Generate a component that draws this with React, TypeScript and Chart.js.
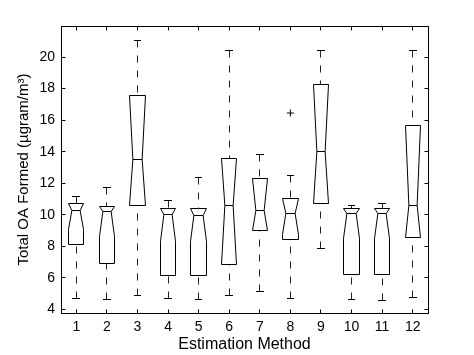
import React, { useEffect, useRef } from 'react';
import { Chart, registerables } from 'chart.js';

Chart.register(...registerables);

// ---- data ----
const methods = ['1', '2', '3', '4', '5', '6', '7', '8', '9', '10', '11', '12'];
const whiskerLow = [4.68, 4.64, 4.87, 4.66, 4.65, 4.87, 5.13, 4.68, 7.89, 4.61, 4.58, 4.76];
const q1 = [8.10, 6.92, 10.58, 6.16, 6.14, 6.87, 9.0, 8.46, 10.70, 6.22, 6.19, 8.56];
const median = [10.28, 10.2, 13.5, 10.03, 9.98, 10.58, 10.27, 10.11, 14.03, 10.05, 10.05, 10.57];
const q3 = [10.70, 10.55, 17.55, 10.42, 10.37, 13.58, 12.32, 11.05, 18.27, 10.38, 10.38, 15.66];
const whiskerHigh = [11.18, 11.75, 21.08, 10.9, 12.38, 20.39, 13.81, 12.48, 20.39, 10.59, 10.74, 20.39];
const notchLow = [9.05, 8.65, 10.58, 8.3, 8.3, 6.87, 9.0, 8.73, 10.70, 8.5, 8.5, 8.56];
const notchHigh = [10.70, 10.55, 17.55, 10.42, 10.37, 13.58, 12.32, 11.05, 18.27, 10.38, 10.38, 15.66];
const outliers: (number | null)[] = [null, null, null, null, null, null, null, 16.45, null, null, null, null];
const yTicks = [4, 6, 8, 10, 12, 14, 16, 18, 20];
const yMin = 3.77;
const yMax = 21.97;

const FONT = '"Liberation Sans", Arial, Helvetica, sans-serif';
const BOX_W = 0.5;
const CAP_W = 0.25;
const NOTCH_INSET = 0.22;

const snap = (p: number) => Math.floor(p) + 0.5;

const boxPlugin = {
  id: 'notchedBoxes',
  beforeDatasetsDraw(chart: any) {
    const ctx = chart.ctx;
    const xs = chart.scales.x;
    const ys = chart.scales.y;
    const py = (v: number) => snap(ys.getPixelForValue(v));
    ctx.save();
    ctx.strokeStyle = '#000';
    ctx.lineWidth = 1;
    for (let i = 0; i < methods.length; i++) {
      const cxRaw = xs.getPixelForValue(i);
      const cx = snap(cxRaw);
      const hw = xs.getPixelForValue(i + BOX_W / 2) - cxRaw;
      const capHw = xs.getPixelForValue(i + CAP_W / 2) - cxRaw;
      const inset = hw * 2 * NOTCH_INSET;
      const l = snap(cxRaw - hw);
      const r = snap(cxRaw + hw);

      // whiskers (dashed), drawn from the cap toward the box
      ctx.strokeStyle = '#222';
      ctx.setLineDash([7, 8]);
      ctx.beginPath();
      ctx.moveTo(cx, py(whiskerHigh[i]));
      ctx.lineTo(cx, py(q3[i]));
      ctx.stroke();
      ctx.beginPath();
      ctx.moveTo(cx, py(whiskerLow[i]));
      ctx.lineTo(cx, py(q1[i]));
      ctx.stroke();
      ctx.setLineDash([]);
      ctx.strokeStyle = '#000';

      // caps
      ctx.beginPath();
      ctx.moveTo(Math.round(cxRaw - capHw), py(whiskerHigh[i]));
      ctx.lineTo(Math.round(cxRaw + capHw), py(whiskerHigh[i]));
      ctx.moveTo(Math.round(cxRaw - capHw), py(whiskerLow[i]));
      ctx.lineTo(Math.round(cxRaw + capHw), py(whiskerLow[i]));
      ctx.stroke();

      // notched box
      const nLo = Math.max(notchLow[i], q1[i]);
      const nHi = Math.min(notchHigh[i], q3[i]);
      ctx.beginPath();
      ctx.moveTo(l, py(q1[i]));
      ctx.lineTo(l, py(nLo));
      ctx.lineTo(l + inset, py(median[i]));
      ctx.lineTo(l, py(nHi));
      ctx.lineTo(l, py(q3[i]));
      ctx.lineTo(r, py(q3[i]));
      ctx.lineTo(r, py(nHi));
      ctx.lineTo(r - inset, py(median[i]));
      ctx.lineTo(r, py(nLo));
      ctx.lineTo(r, py(q1[i]));
      ctx.closePath();
      ctx.stroke();

      // median
      ctx.beginPath();
      ctx.moveTo(l + inset, py(median[i]));
      ctx.lineTo(r - inset, py(median[i]));
      ctx.stroke();
    }
    ctx.restore();
  },
  afterDraw(chart: any) {
    const ctx = chart.ctx;
    const xs = chart.scales.x;
    const ys = chart.scales.y;
    const { left, right, top, bottom } = chart.chartArea;
    const L = snap(left), R = snap(right), T = snap(top), B = snap(bottom);
    const TL = 4;
    ctx.save();
    ctx.strokeStyle = '#000';
    ctx.lineWidth = 1;
    ctx.strokeRect(L, T, R - L, B - T);
    ctx.beginPath();
    for (const t of yTicks) {
      const yy = snap(ys.getPixelForValue(t));
      ctx.moveTo(L, yy);
      ctx.lineTo(L + TL, yy);
      ctx.moveTo(R, yy);
      ctx.lineTo(R - TL, yy);
    }
    for (let i = 0; i < methods.length; i++) {
      const xx = snap(xs.getPixelForValue(i));
      ctx.moveTo(xx, B);
      ctx.lineTo(xx, B - TL);
      ctx.moveTo(xx, T);
      ctx.lineTo(xx, T + TL);
    }
    ctx.stroke();
    ctx.restore();
  },
};

export default function App() {
  const ref = useRef<HTMLCanvasElement | null>(null);

  useEffect(() => {
    if (!ref.current) return;
    const chart = new Chart(ref.current, {
      type: 'line',
      data: {
        labels: methods,
        datasets: [
          {
            label: 'Outliers',
            data: outliers,
            showLine: false,
            pointStyle: 'cross',
            pointRadius: 3.5,
            pointBorderWidth: 1,
            borderColor: '#000',
            backgroundColor: '#000',
          },
        ],
      },
      options: {
        animation: false,
        responsive: false,
        devicePixelRatio: 1,
        layout: { padding: { left: 0, top: 26, right: 46, bottom: 0 } },
        plugins: {
          legend: { display: false },
          tooltip: { enabled: false },
        },
        scales: {
          x: {
            type: 'category',
            offset: true,
            grid: { display: false, drawTicks: false },
            border: { display: false },
            ticks: { color: '#000', font: { family: FONT, size: 14 }, padding: 6, maxRotation: 0 },
            title: {
              display: true,
              text: 'Estimation Method',
              color: '#000',
              font: { family: FONT, size: 16 },
              padding: { top: 0, bottom: 1 },
            },
            afterFit: (s: any) => {
              s.height = 42;
            },
          },
          y: {
            type: 'linear',
            min: yMin,
            max: yMax,
            grid: { display: false, drawTicks: false },
            border: { display: false },
            afterBuildTicks: (s: any) => {
              s.ticks = yTicks.map((v) => ({ value: v }));
            },
            ticks: { color: '#000', font: { family: FONT, size: 14 }, padding: 6 },
            title: {
              display: true,
              text: 'Total OA Formed (µgram/m³)',
              color: '#000',
              font: { family: FONT, size: 15 },
              padding: { top: 15, bottom: 0 },
            },
            afterFit: (s: any) => {
              s.width = 61;
            },
          },
        },
      },
      plugins: [boxPlugin],
    });
    return () => chart.destroy();
  }, []);

  return (
    <div style={{ position: 'fixed', left: 0, top: 0, width: 474, height: 355, background: '#fff' }}>
      <canvas ref={ref} width={474} height={355} />
    </div>
  );
}
